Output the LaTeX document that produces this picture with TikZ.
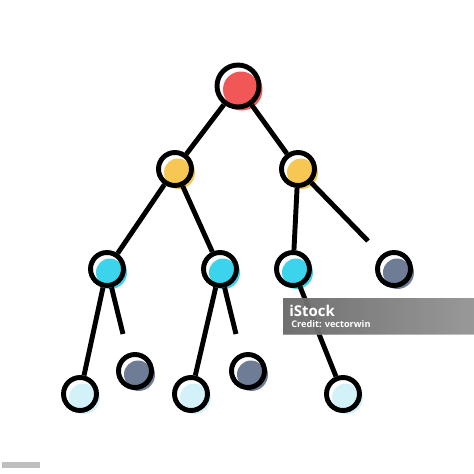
\documentclass[tikz,border=0pt]{standalone}
\usepackage{fontspec}
\setsansfont{Open Sans}
\usetikzlibrary{calc}
\definecolor{cred}{HTML}{F25757}
\definecolor{cyel}{HTML}{F6C752}
\definecolor{ccyan}{HTML}{3CD3EC}
\definecolor{cgray}{HTML}{6E7C95}
\definecolor{clight}{HTML}{D3F1F8}
\begin{document}
\begin{tikzpicture}[x=0.02cm,y=-0.02cm,
  tnode/.style n args={3}{circle, draw=black, line width=2.8pt, fill=white,
    minimum size=#2, inner sep=0pt,
    preaction={fill=#1, transform canvas={shift={(0.07cm,-0.07cm)}}},
    path picture={\fill[#1] ([shift={(0.06cm,-0.07cm)}]path picture bounding box.center) circle (#3);}},
  small/.style={tnode={#1}{0.66cm}{0.28cm}},
  big/.style={tnode={#1}{0.84cm}{0.36cm}},
  link/.style={line width=2.8pt, black}]
\useasboundingbox (0,0) rectangle (474,474);
\fill[white] (0,0) rectangle (474,474);
% nodes
\node[big=cred] (r) at (238,86) {};
\node[small=cyel] (y1) at (175,169) {};
\node[small=cyel] (y2) at (298,169) {};
\node[small=ccyan] (c1) at (107,269) {};
\node[small=ccyan] (c2) at (220,269) {};
\node[small=ccyan] (c3) at (293,269) {};
\node[small=cgray] (g0) at (394,269) {};
\node[small=clight] (l1) at (80,394) {};
\node[small=cgray] (g1) at (135,371) {};
\node[small=clight] (l2) at (191,394) {};
\node[small=cgray] (g2) at (248,371) {};
\node[small=clight] (l3) at (343,394) {};
\coordinate (f0) at (368,241);
\coordinate (f1) at (123,334);
\coordinate (f2) at (236,334);
% links
\draw[link] (r) -- (y1);
\draw[link] (r) -- (y2);
\draw[link] (y1) -- (c1);
\draw[link] (y1) -- (c2);
\draw[link] (y2) -- (c3);
\draw[link] (y2) -- (f0);
\draw[link] (c1) -- (l1);
\draw[link] (c1) -- (f1);
\draw[link] (c2) -- (l2);
\draw[link] (c2) -- (f2);
\draw[link] (c3) -- (l3);
% watermark
\fill[left color=black!50, right color=black!30, opacity=0.8] (283,298) rectangle (474,334);
\node[anchor=base west, text=white, font=\sffamily\bfseries\fontsize{8.5}{9}\selectfont, inner sep=0pt] (ws) at (289,316) {iStock};
\node[anchor=base west, text=white, font=\sffamily\bfseries\fontsize{5.2}{6}\selectfont, inner sep=0pt] (wc) at (291,327) {Credit: vectorwin};
\fill[black!25] (2,462) rectangle (40,468);
\end{tikzpicture}
\end{document}
